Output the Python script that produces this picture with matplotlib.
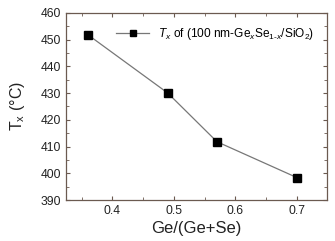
import matplotlib.pyplot as plt
from matplotlib.ticker import MultipleLocator

# data
ge_ratio = [0.36, 0.49, 0.57, 0.70]
tx_values = [451.8, 430.0, 411.8, 398.4]

plt.rcParams['font.family'] = ['Liberation Sans', 'DejaVu Sans']
plt.rcParams['mathtext.fontset'] = 'custom'
plt.rcParams['mathtext.rm'] = 'Liberation Sans'
plt.rcParams['mathtext.it'] = 'Liberation Sans:italic'

axis_color = '#6b5a50'

fig = plt.figure(figsize=(3.35, 2.41), dpi=100)
ax = fig.add_axes([0.198, 0.170, 0.778, 0.777])

ax.plot(ge_ratio, tx_values, color='#777777', lw=0.9, marker='s', ms=6,
        mfc='black', mec='black',
        label=r'$T_x$ of (100 nm-Ge$_x$Se$_{1\text{-}x}$/SiO$_2$)')

ax.set_xlim(0.325, 0.749)
ax.set_ylim(390, 460)
ax.xaxis.set_major_locator(MultipleLocator(0.1))
ax.xaxis.set_minor_locator(MultipleLocator(0.05))
ax.yaxis.set_major_locator(MultipleLocator(10))
ax.yaxis.set_minor_locator(MultipleLocator(5))
ax.tick_params(which='both', direction='in', top=True, right=True,
               color=axis_color, labelsize=8.7, labelcolor='#222222')
ax.tick_params(which='major', length=3)
ax.tick_params(which='minor', length=2)
for s in ax.spines.values():
    s.set_color(axis_color)
    s.set_linewidth(0.9)

ax.set_xlabel('Ge/(Ge+Se)', fontsize=12, color='#222222', labelpad=3)
ax.set_ylabel(r'T$_\mathrm{x}$ (°C)', fontsize=11.5, color='#222222', labelpad=10)

ax.legend(loc='upper right', frameon=False, fontsize=8.6, handlelength=2.8,
          handletextpad=0.7, borderaxespad=0.7, markerscale=0.8)

fig.savefig('out.png', dpi=100)
